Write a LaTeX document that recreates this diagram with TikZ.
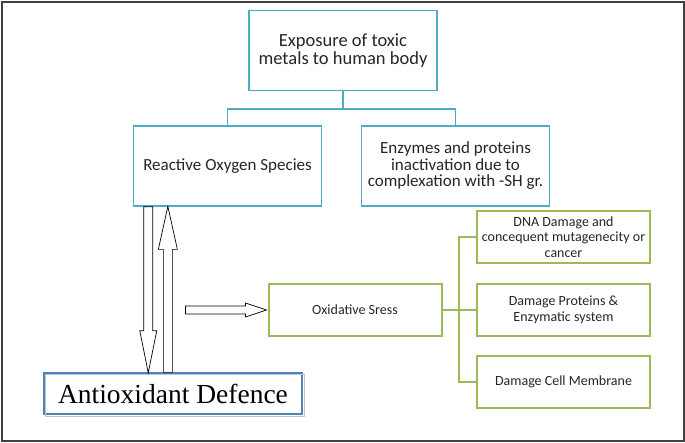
\documentclass[tikz,border=0pt]{standalone}
\usepackage{fontspec}
\setmainfont{Carlito}
\newfontfamily\defencefont{Liberation Serif}
\usepackage{xcolor}
\definecolor{ros-teal}{HTML}{4BACC6}
\definecolor{harm-green}{HTML}{9BBB59}
\definecolor{def-blue}{HTML}{4F81BD}
\definecolor{frame-grey}{HTML}{404040}
\usetikzlibrary{positioning}

\begin{document}
\begin{tikzpicture}[x=1pt, y=-1pt,
      every node/.style={text=black!85},
      tealbox/.style={draw=ros-teal, line width=1.5pt, fill=white, align=center,
          minimum width=188pt, minimum height=80pt, inner sep=2pt,
          font=\fontsize{17}{16.5}\selectfont},
      greenbox/.style={draw=harm-green, line width=2pt, fill=white, align=center,
          minimum width=173pt, minimum height=52pt, inner sep=2pt,
          font=\fontsize{14}{15.5}\selectfont},
      tealline/.style={draw=ros-teal, line width=1.5pt},
      greenline/.style={draw=harm-green, line width=2pt},
      blockarrow/.style={draw=black, line width=0.7pt, fill=white, line join=miter}]
    \useasboundingbox (0,0) rectangle (685,442);
    \draw[frame-grey, line width=2pt] (1.5,1.5) rectangle (683.5,440.5);

    % top level
    \node[tealbox, font=\fontsize{18.5}{18}\selectfont] (expo) at (343,50.5)
        {Exposure of toxic\\metals to human body};
    \node[tealbox] (ros) at (227.5,166) {Reactive Oxygen Species};
    \node[tealbox] (enz) at (455.5,166)
        {Enzymes and proteins\\inactivation due to\\complexation with -SH gr.};
    \draw[tealline] (expo.south) -- ++(0,17.5) -| (ros.north);
    \draw[tealline] (expo.south) -- ++(0,17.5) -| (enz.north);

    % oxidative stress branch
    \node[greenbox] (oxi) at (355,310) {Oxidative Sress};
    \node[greenbox] (dna) at (563.5,237)
        {DNA Damage and\\concequent mutagenecity or\\cancer};
    \node[greenbox] (prot) at (563.5,310) {Damage Proteins \&\\Enzymatic system};
    \node[greenbox] (memb) at (563.5,382) {Damage Cell Membrane};
    \coordinate (trunk) at (459,310);
    \draw[greenline] (oxi.east) -- (trunk);
    \draw[greenline] (trunk) |- (dna.west);
    \draw[greenline] (trunk) -- (prot.west);
    \draw[greenline] (trunk) |- (memb.west);

    % defence
    \node[draw=def-blue, line width=1.3pt, fill=white, minimum width=258pt,
          minimum height=41pt, inner sep=0pt,
          font=\defencefont\fontsize{27.5}{30}\selectfont, text=black] (anti) at (173,393.5)
        {Antioxidant Defence};
    \draw[gray!45, line width=1pt] ([shift={(2pt,-2pt)}]anti.north west)
        rectangle ([shift={(2pt,-2pt)}]anti.south east);

    % hollow arrows
    \draw[blockarrow] ([xshift=11pt]ros.south west) -- ++(0,124) -- ++(-4,0)
        -- ++(8.5,42) -- ++(8.5,-42) -- ++(-4,0) -- ++(0,-124) -- cycle;
    \draw[blockarrow] ([xshift=120pt]anti.north west) -- ++(0,-123) -- ++(-5,0)
        -- ++(9.5,-43) -- ++(9.5,43) -- ++(-5,0) -- ++(0,123) -- cycle;
    \draw[blockarrow] ([xshift=-82pt, yshift=4pt]oxi.west) -- ++(60,0) -- ++(0,-3)
        -- ++(21,7) -- ++(-21,7) -- ++(0,-3) -- ++(-60,0) -- cycle;
\end{tikzpicture}
\end{document}
